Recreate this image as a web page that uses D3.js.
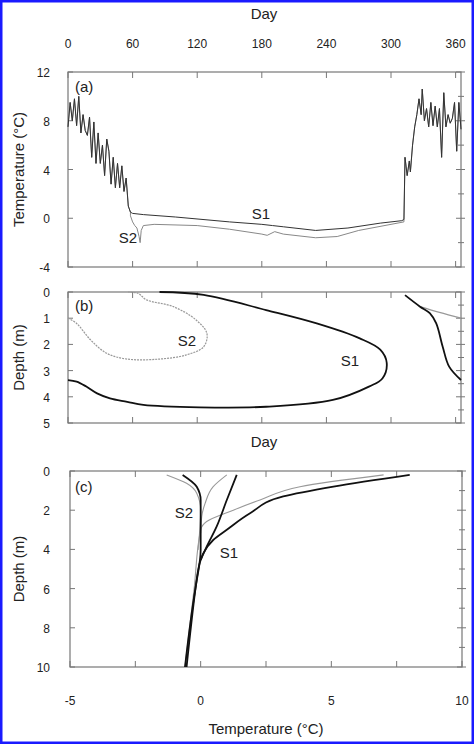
<!DOCTYPE html>
<html><head><meta charset="utf-8">
<script src="https://cdn.jsdelivr.net/npm/d3@7"></script>
<style>
body{margin:0;background:#fff}
svg text{font-family:"Liberation Sans",Arial,sans-serif;fill:#222}
</style></head><body>
<script>
// panel (a): shared early record, then diverging S1/S2 series [day, temp]
var earlyDays = [0,2,4,6,8,10,12,14,16,18,20,22,24,26,28,30,32,34,36,38,40,42,44,46,48,50,52,54,56,58];
var earlyTemp = [7.5,9.5,8,9.8,7.6,10,7,8.5,7.2,6.8,8.3,5,7.9,4.5,7,4.5,6,3.5,6.5,5.5,2.8,5,2.5,4.5,2.5,4.3,2.2,3.3,1,0.5];
var s1Mid = [[60,0.4],[70,0.3],[100,0.1],[150,-0.3],[180,-0.5],[190,-0.6],[200,-0.7],[230,-1.0],[260,-0.8],[290,-0.4],[310,-0.2],[312,-0.1]];
var s2Mid = [[58,0.2],[60,-0.3],[62,-0.6],[64,-0.8],[66,-1.5],[67,-2.0],[68,-1],[70,-0.6],[80,-0.5],[120,-0.6],[150,-0.9],[180,-1.3],[185,-1.4],[192,-1.1],[200,-1.3],[230,-1.6],[250,-1.5],[270,-1.0],[300,-0.5],[312,-0.3]];
var lateDays = [313,315,317,318,320,322,324,326,328,329,331,333,335,337,339,341,343,345,347,349,351,353,355,357,359,361,363,365];
var lateTemp = [5,3.5,4.7,3.8,6,7.5,8.5,9.8,8.5,10.6,8,9,7.5,9.5,7.6,9.2,7.5,9,5,10.3,7.5,8.5,7.8,8.2,9.5,5.5,9.5,7.3];

// panel (b): freezing depth contours [day, depth]
var bS1 = [[0,3.36],[8,3.42],[17,3.61],[27,3.87],[39,4.06],[55,4.19],[70,4.31],[122,4.4],[184,4.38],[246,4.12],[280,3.6],[292,3.3],[296,2.7],[290,2.2],[271,1.77],[231,1.2],[184,0.69],[126,0.11],[85,0]];
var bS1Right = [[313,0.12],[327,0.56],[336,0.81],[342,1.2],[348,2.09],[354,2.85],[365,3.36]];
var bS2 = [[0,1.0],[8,1.2],[21,1.83],[36,2.34],[55,2.56],[85,2.56],[110,2.4],[126,2.09],[129,1.58],[119,1.07],[98,0.56],[73,0.3],[65,0.05],[56,0]];
var bS2Right = [[327,0.56],[345,0.78],[365,1.0]];

// panel (c): temperature profiles [temp, depth]
var cS1 = [
  [[8.0,0.2],[5.08,0.8],[3.16,1.3],[1.89,2.16],[1.0,3.0],[0.48,3.52],[0.1,4.2],[0,4.54],[-0.2,6],[-0.6,10]],
  [[1.38,0.2],[1.0,1.48],[0.61,2.84],[0.23,3.86],[0,4.54]],
  [[-0.69,0.2],[-0.15,0.8],[0,1.48],[0,4.03],[-0.2,6],[-0.54,10]]
];
var cS2 = [
  [[7.0,0.2],[3.8,0.8],[2.27,1.48],[1.25,2.0],[0.23,2.58],[0,3.0],[-0.25,6],[-0.6,10]],
  [[1.0,0.2],[0.48,0.8],[0.17,1.65],[0.04,2.33],[0,3.18]],
  [[-1.3,0.2],[-0.54,0.63],[-0.15,1.14],[0,2.0],[-0.1,4.03]]
];

var W = 474, H = 744;
var svg = d3.select("body").append("svg").attr("width", W).attr("height", H);
svg.append("rect").attr("width", W).attr("height", H).attr("fill", "none").attr("stroke", "#1a1aff").attr("stroke-width", 5);

var xDay = d3.scaleLinear().domain([0, 365]).range([68, 461]);
var yA = d3.scaleLinear().domain([-4, 12]).range([267, 72]);
var yB = d3.scaleLinear().domain([0, 5]).range([292, 423]);
var xT = d3.scaleLinear().domain([-5, 10]).range([70, 462]);
var yC = d3.scaleLinear().domain([0, 10]).range([471, 667]);
var axisCol = "#777";

function frame(x, y) {
  svg.append("rect").attr("x", x.range()[0]).attr("y", Math.min(y.range()[0], y.range()[1]))
    .attr("width", x.range()[1] - x.range()[0]).attr("height", Math.abs(y.range()[1] - y.range()[0]))
    .attr("fill", "none").attr("stroke", axisCol).attr("stroke-width", 1.2);
}
function ticksX(x, y0, y1, vals) {
  vals.forEach(function(v) {
    svg.append("line").attr("x1", x(v)).attr("x2", x(v)).attr("y1", y0).attr("y2", y0 + 6).attr("stroke", axisCol);
    svg.append("line").attr("x1", x(v)).attr("x2", x(v)).attr("y1", y1).attr("y2", y1 - 6).attr("stroke", axisCol);
  });
}
function ticksY(y, x0, x1, major, minor) {
  major.forEach(function(v) {
    svg.append("line").attr("x1", x0).attr("x2", x0 + 5).attr("y1", y(v)).attr("y2", y(v)).attr("stroke", axisCol);
    svg.append("line").attr("x1", x1 - 5).attr("x2", x1 + 4).attr("y1", y(v)).attr("y2", y(v)).attr("stroke", axisCol);
  });
  minor.forEach(function(v) {
    svg.append("line").attr("x1", x1 - 3).attr("x2", x1 + 3).attr("y1", y(v)).attr("y2", y(v)).attr("stroke", axisCol);
  });
}
function txt(x, y, s, size, anchor) {
  return svg.append("text").attr("x", x).attr("y", y).attr("font-size", size).attr("text-anchor", anchor || "middle").text(s);
}

var dayTicks = [0, 60, 120, 180, 240, 300, 360];

// ---- panel a
frame(xDay, yA);
ticksX(xDay, 72, 267, dayTicks);
ticksY(yA, 68, 461, [12, 8, 4, 0, -4], [10, 6, 2, -2]);
dayTicks.forEach(function(d) { txt(xDay(d), 48, d, 12); });
txt(264, 19, "Day", 15);
[12, 8, 4, 0, -4].forEach(function(v) { txt(50, yA(v) + 5, v, 12, "end"); });
txt(0, 0, "Temperature (°C)", 15).attr("transform", "translate(24," + yA(4) + ") rotate(-90)");

var early = earlyDays.map(function(d, i) { return [d, earlyTemp[i]]; });
var late = lateDays.map(function(d, i) { return [d, lateTemp[i]]; });
var lineA = d3.line().x(function(d) { return xDay(d[0]); }).y(function(d) { return yA(d[1]); });
svg.append("path").attr("d", lineA(early.concat(s2Mid).concat(late))).attr("fill", "none").attr("stroke", "#888").attr("stroke-width", 1);
svg.append("path").attr("d", lineA(early.concat(s1Mid).concat(late))).attr("fill", "none").attr("stroke", "#333").attr("stroke-width", 1);
txt(75, 92, "(a)", 15, "start");
txt(261, 219, "S1", 15);
txt(128, 243, "S2", 15);

// ---- panel b
frame(xDay, yB);
ticksX(xDay, 292, 423, dayTicks);
ticksY(yB, 68, 461, [0, 1, 2, 3, 4, 5], [0.5, 1.5, 2.5, 3.5, 4.5]);
[0, 1, 2, 3, 4, 5].forEach(function(v) { txt(50, yB(v) + 5, v, 12, "end"); });
txt(0, 0, "Depth (m)", 15).attr("transform", "translate(24," + yB(2.5) + ") rotate(-90)");
txt(264, 447, "Day", 15);
var lineB = d3.line().x(function(d) { return xDay(d[0]); }).y(function(d) { return yB(d[1]); }).curve(d3.curveCatmullRom);
svg.append("path").attr("d", lineB(bS2)).attr("fill", "none").attr("stroke", "#999").attr("stroke-width", 1.2).attr("stroke-dasharray", "2,1");
svg.append("path").attr("d", lineB(bS2Right)).attr("fill", "none").attr("stroke", "#999").attr("stroke-width", 1.2);
svg.append("path").attr("d", lineB(bS1)).attr("fill", "none").attr("stroke", "#111").attr("stroke-width", 1.8);
svg.append("path").attr("d", lineB(bS1Right)).attr("fill", "none").attr("stroke", "#111").attr("stroke-width", 1.8);
txt(75, 311, "(b)", 15, "start");
txt(187, 346, "S2", 15);
txt(350, 366, "S1", 15);

// ---- panel c
frame(xT, yC);
ticksX(xT, 471, 667, [-5, -2.5, 0, 2.5, 5, 7.5, 10]);
ticksY(yC, 70, 462, [0, 2, 4, 6, 8, 10], [1, 3, 5, 7, 9]);
[0, 2, 4, 6, 8, 10].forEach(function(v) { txt(50, yC(v) + 5, v, 12, "end"); });
[-5, 0, 5, 10].forEach(function(v) { txt(xT(v), 705, v, 12); });
txt(0, 0, "Depth (m)", 15).attr("transform", "translate(24," + yC(5) + ") rotate(-90)");
txt(266, 734, "Temperature (°C)", 15);
var lineC = d3.line().x(function(d) { return xT(d[0]); }).y(function(d) { return yC(d[1]); }).curve(d3.curveMonotoneY);
cS2.forEach(function(p) {
  svg.append("path").attr("d", lineC(p)).attr("fill", "none").attr("stroke", "#999").attr("stroke-width", 1.1);
});
cS1.forEach(function(p) {
  svg.append("path").attr("d", lineC(p)).attr("fill", "none").attr("stroke", "#111").attr("stroke-width", 1.8);
});
txt(75, 492, "(c)", 15, "start");
txt(184, 518, "S2", 15);
txt(229, 558, "S1", 15);
</script>
</body></html>
